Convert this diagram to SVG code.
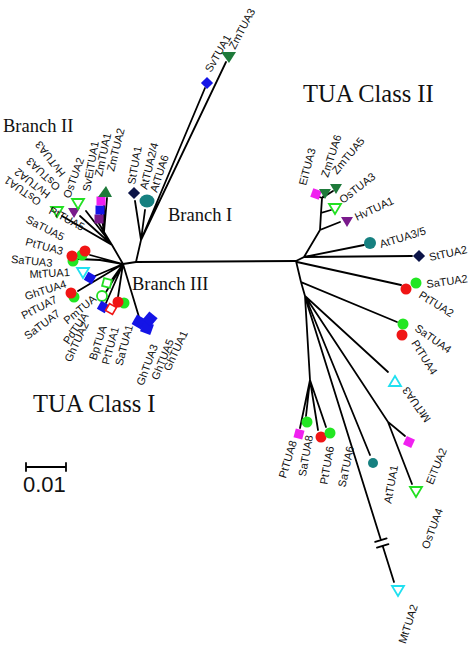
<svg xmlns="http://www.w3.org/2000/svg" xmlns:xlink="http://www.w3.org/1999/xlink" width="474" height="645" viewBox="0 0 474 645">
<style>
.ln{stroke:#000;stroke-width:1.8;fill:none;stroke-linecap:round}
.lb{font-family:"Liberation Sans",Arial,sans-serif;font-size:11px;fill:#111}
.e{text-anchor:end}
.br{font-family:"Liberation Serif","Times New Roman",serif;font-size:18.5px;fill:#111}
.cl{font-family:"Liberation Serif","Times New Roman",serif;font-size:24.5px;fill:#111}
.red{fill:#f01515}.grn{fill:#22e622}.blu{fill:#1414e6}.mag{fill:#f020f0}.pur{fill:#7a1a8c}
.dgr{fill:#1e7a3a}.tea{fill:#168080}.nav{fill:#0c1448}
.og{fill:#fff;stroke:#22e022;stroke-width:1.8}.oc{fill:#fff;stroke:#20e0f0;stroke-width:1.8}.orr{fill:#fff;stroke:#f01515;stroke-width:1.6}
</style>
<defs>
<polygon id="tri" points="-6,-4 6,-4 0,6"/>
<polygon id="triu" points="-6,4 6,4 0,-6"/>
<rect id="sq" x="-4.5" y="-4.5" width="9" height="9"/>
<rect id="dia" x="-4.3" y="-4.3" width="8.6" height="8.6" transform="rotate(45)"/>
<circle id="dot" r="5.5"/>
</defs>
<rect width="474" height="645" fill="#fff"/>

<g id="connectors" class="ln">
<path d="M123,264 L136,262 L296,261"/>
<path d="M136,262 L141,240 L205,88 M141,240 L226,62 M141,240 L135,201 M141,240 L145,210"/>
<path d="M123,264 L112,245 L62,216 M112,245 L80,216 M112,245 L86,211 M112,245 L104,232 L98,222 M104,232 L101,212 M104,232 L104,205 M104,232 L107,198"/>
<path d="M123,264 L100,260 L78,259 M123,264 L90,255 M123,264 L95,276 M123,264 L78,291 M123,264 L111,281 M123,264 L106,292 M123,264 L106,303 M123,264 L118,297 M123,264 L139,317"/>
<path d="M296,261 L304,257 L320,230 L340,222 M320,230 L321,213 L331,210 M321,213 L322,198 L317,196 M322,198 L325,194 M322,198 L333,191 M304,257 L364,245 M304,257 L412,256"/>
<path d="M297,262 L401,285 M296,261 L301,282 L397,322 M301,282 L305,296 L388,372 M305,296 L310,380 L306,416 M310,380 L300,428 M310,380 L318,430 M310,380 L326,427 M305,296 L370,455 M305,296 L388,422 L405,436 M388,422 L412,484"/>
<path d="M306,300 L380.9,540.1 M382.7,545.9 L394,582 M375.2,541.9 L386.6,538.3 M377,547.7 L388.4,544.1"/>
<path d="M26,467 L66,467 M26,463 L26,471 M66,463 L66,471"/>
</g>

<text class="cl" x="303" y="102">TUA Class II</text>
<text class="cl" x="33" y="412">TUA Class I</text>
<text class="br" x="3" y="132">Branch II</text>
<text class="br" x="168" y="221">Branch I</text>
<text class="br" x="132" y="290">Branch III</text>
<text x="23" y="492" style="font-family:'Liberation Sans',Arial,sans-serif;font-size:22px;fill:#111">0.01</text>

<!-- Branch I -->
<g id="SvTUA1"><use href="#dia" x="207" y="83" class="blu"/><text class="lb" transform="translate(211,73) rotate(-60)">SvTUA1</text></g>
<g id="ZmTUA3"><polygon points="221,52 236,52 229,63" class="dgr"/><text class="lb" transform="translate(235,50) rotate(-62)">ZmTUA3</text></g>
<g id="StTUA1"><use href="#dia" x="134" y="193" class="nav"/><text class="lb" transform="translate(135,185) rotate(-80)">StTUA1</text></g>
<g id="AtTUA2-4"><ellipse cx="147" cy="201" rx="7.5" ry="6.5" class="tea"/><text class="lb" transform="translate(147,190) rotate(-76)">AtTUA2/4</text></g>
<g id="AtTUA6"><text class="lb" transform="translate(157,193) rotate(-72)">AtTUA6</text></g>

<!-- Branch II -->
<g id="OsTUA1"><use href="#tri" x="57" y="211" class="og"/><text class="lb" transform="translate(42,200) rotate(215)">OsTUA1</text></g>
<g id="HvTUA2"><use href="#tri" x="74" y="212" class="pur"/><text class="lb" transform="translate(51,193) rotate(218)">HvTUA2</text></g>
<g id="OsTUA3a"><use href="#tri" x="78" y="203" class="og"/><text class="lb" transform="translate(61,186) rotate(224)">OsTUA3</text></g>
<g id="HvTUA3"><use href="#sq" x="99" y="219" class="pur"/><text class="lb" transform="translate(66,173) rotate(232)">HvTUA3</text></g>
<g id="OsTUA2"><use href="#sq" x="100" y="210" class="blu"/><text class="lb" transform="translate(70,199) rotate(-70)">OsTUA2</text></g>
<g id="SvEiTUA1"><use href="#sq" x="101" y="201" class="mag"/><text class="lb" transform="translate(90,192) rotate(-80)">SvEiTUA1</text></g>
<g id="ZmTUA1"><polygon points="98,197 112,197 106,186" class="dgr"/><text class="lb" transform="translate(102,177) rotate(-78)">ZmTUA1</text></g>
<g id="ZmTUA2"><text class="lb" transform="translate(114,172) rotate(-76)">ZmTUA2</text></g>

<!-- Branch III / others -->
<g id="PtTUA5"><use href="#dot" x="82" y="255" class="grn"/><use href="#dot" x="85" y="251" class="red"/><text class="lb e" transform="translate(82,231) rotate(28)">PtTUA5</text></g>
<g id="SaTUA5"><text class="lb e" transform="translate(62,241) rotate(27)">SaTUA5</text></g>
<g id="PtTUA3"><use href="#dot" x="73" y="261" class="grn"/><use href="#dot" x="72" y="256" class="red"/><text class="lb e" transform="translate(62,255) rotate(15)">PtTUA3</text></g>
<g id="SaTUA3"><text class="lb e" transform="translate(52,267) rotate(6)">SaTUA3</text></g>
<g id="MtTUA1"><use href="#tri" x="83" y="272" class="oc"/><text class="lb e" transform="translate(70,276) rotate(-3)">MtTUA1</text></g>
<g id="GhTUA4"><use href="#sq" class="blu" transform="translate(90,278) rotate(30)"/><text class="lb e" transform="translate(67,287) rotate(-18)">GhTUA4</text></g>
<g id="PtTUA7"><use href="#dot" x="74" y="297" class="grn"/><use href="#dot" x="71" y="293" class="red"/><text class="lb e" transform="translate(58,302) rotate(-27)">PtTUA7</text></g>
<g id="SaTUA7"><text class="lb e" transform="translate(61,315) rotate(-37)">SaTUA7</text></g>
<g id="PmTUA"><rect x="-4" y="-4" width="8" height="8" class="og" transform="translate(107,283) rotate(15)"/><text class="lb e" transform="translate(97,300) rotate(-40)">PmTUA</text></g>
<g id="PdTUA"><circle cx="102" cy="296" r="5" class="og"/><text class="lb e" transform="translate(89,316) rotate(-55)">PdTUA</text></g>
<g id="GhTUA2"><use href="#sq" class="blu" transform="translate(103,307) rotate(30)"/><text class="lb e" transform="translate(89,324) rotate(-65)">GhTUA2</text></g>
<g id="BpTUA"><rect x="-4" y="-4" width="8" height="8" class="orr" transform="translate(111,309) rotate(30)"/><text class="lb e" transform="translate(107,327) rotate(-72)">BpTUA</text></g>
<g id="PtTUA1"><use href="#dot" x="124" y="303" class="grn"/><use href="#dot" x="118" y="302" class="red"/><text class="lb e" transform="translate(119,328) rotate(-75)">PtTUA1</text></g>
<g id="SaTUA1"><text class="lb e" transform="translate(133,326) rotate(-75)">SaTUA1</text></g>
<g id="GhTUA3"><use href="#sq" class="blu" transform="translate(139,322) rotate(30) scale(1.2)"/><text class="lb e" transform="translate(158,346) rotate(-70)">GhTUA3</text></g>
<g id="GhTUA5"><use href="#sq" class="blu" transform="translate(147,328) rotate(20) scale(1.2)"/><text class="lb e" transform="translate(174,341) rotate(-68)">GhTUA5</text></g>
<g id="GhTUA1"><use href="#sq" class="blu" transform="translate(150,319) rotate(40) scale(1.2)"/><text class="lb e" transform="translate(188,333) rotate(-65)">GhTUA1</text></g>

<!-- Class II upper -->
<g id="EiTUA3"><use href="#sq" class="mag" transform="translate(316,194) rotate(20)"/><text class="lb" transform="translate(306,186) rotate(-75)">EiTUA3</text></g>
<g id="ZmTUA6"><use href="#tri" x="325" y="193" class="dgr"/><text class="lb" transform="translate(328,178) rotate(-72)">ZmTUA6</text></g>
<g id="ZmTUA5"><use href="#tri" x="336" y="188" class="dgr"/><text class="lb" transform="translate(337,175) rotate(-50)">ZmTUA5</text></g>
<g id="OsTUA3"><use href="#tri" x="335" y="208" class="og"/><text class="lb" transform="translate(343,204) rotate(-38)">OsTUA3</text></g>
<g id="HvTUA1"><use href="#tri" x="347" y="221" class="pur"/><text class="lb" transform="translate(357,221) rotate(-25)">HvTUA1</text></g>
<g id="AtTUA3-5"><circle cx="370" cy="243" r="6" class="tea"/><text class="lb" transform="translate(381,248) rotate(-17)">AtTUA3/5</text></g>
<g id="StTUA2"><use href="#dia" x="419" y="256" class="nav"/><text class="lb" transform="translate(430,261) rotate(-12)">StTUA2</text></g>
<g id="SaTUA2"><use href="#dot" x="416" y="283" class="grn"/><text class="lb" transform="translate(427,288) rotate(-8)">SaTUA2</text></g>
<g id="PtTUA2"><use href="#dot" x="406" y="289" class="red"/><text class="lb" transform="translate(418,297) rotate(32)">PtTUA2</text></g>
<g id="SaTUA4"><use href="#dot" x="403" y="324" class="grn"/><text class="lb" transform="translate(414,330) rotate(35)">SaTUA4</text></g>
<g id="PtTUA4"><use href="#dot" x="402" y="335" class="red"/><text class="lb" transform="translate(411,343) rotate(58)">PtTUA4</text></g>
<g id="MtTUA3"><use href="#triu" x="395" y="382" class="oc"/><text class="lb e" transform="translate(408,386) rotate(235)">MtTUA3</text></g>

<!-- Class II lower -->
<g id="SaTUA8"><use href="#dot" x="307" y="422" class="grn"/><text class="lb e" transform="translate(313,436) rotate(-80)">SaTUA8</text></g>
<g id="PtTUA8"><use href="#sq" class="mag" transform="translate(299,434) rotate(15)"/><text class="lb e" transform="translate(297,442) rotate(-73)">PtTUA8</text></g>
<g id="PtTUA6"><use href="#dot" x="321" y="437" class="red"/><text class="lb e" transform="translate(334,447) rotate(-80)">PtTUA6</text></g>
<g id="SaTUA6"><use href="#dot" x="330" y="433" class="grn"/><text class="lb e" transform="translate(354,447) rotate(-78)">SaTUA6</text></g>
<g id="AtTUA1"><circle cx="373" cy="463" r="5" class="tea"/><text class="lb e" transform="translate(398,466) rotate(-80)">AtTUA1</text></g>
<g id="EiTUA2"><use href="#sq" class="mag" transform="translate(409,442) rotate(25)"/><text class="lb e" transform="translate(447,450) rotate(-68)">EiTUA2</text></g>
<g id="OsTUA4"><use href="#tri" x="416" y="491" class="og"/><text class="lb e" transform="translate(443,510) rotate(-70)">OsTUA4</text></g>
<g id="MtTUA2"><use href="#tri" x="398" y="590" class="oc"/><text class="lb e" transform="translate(418,606) rotate(-72)">MtTUA2</text></g>
</svg>
